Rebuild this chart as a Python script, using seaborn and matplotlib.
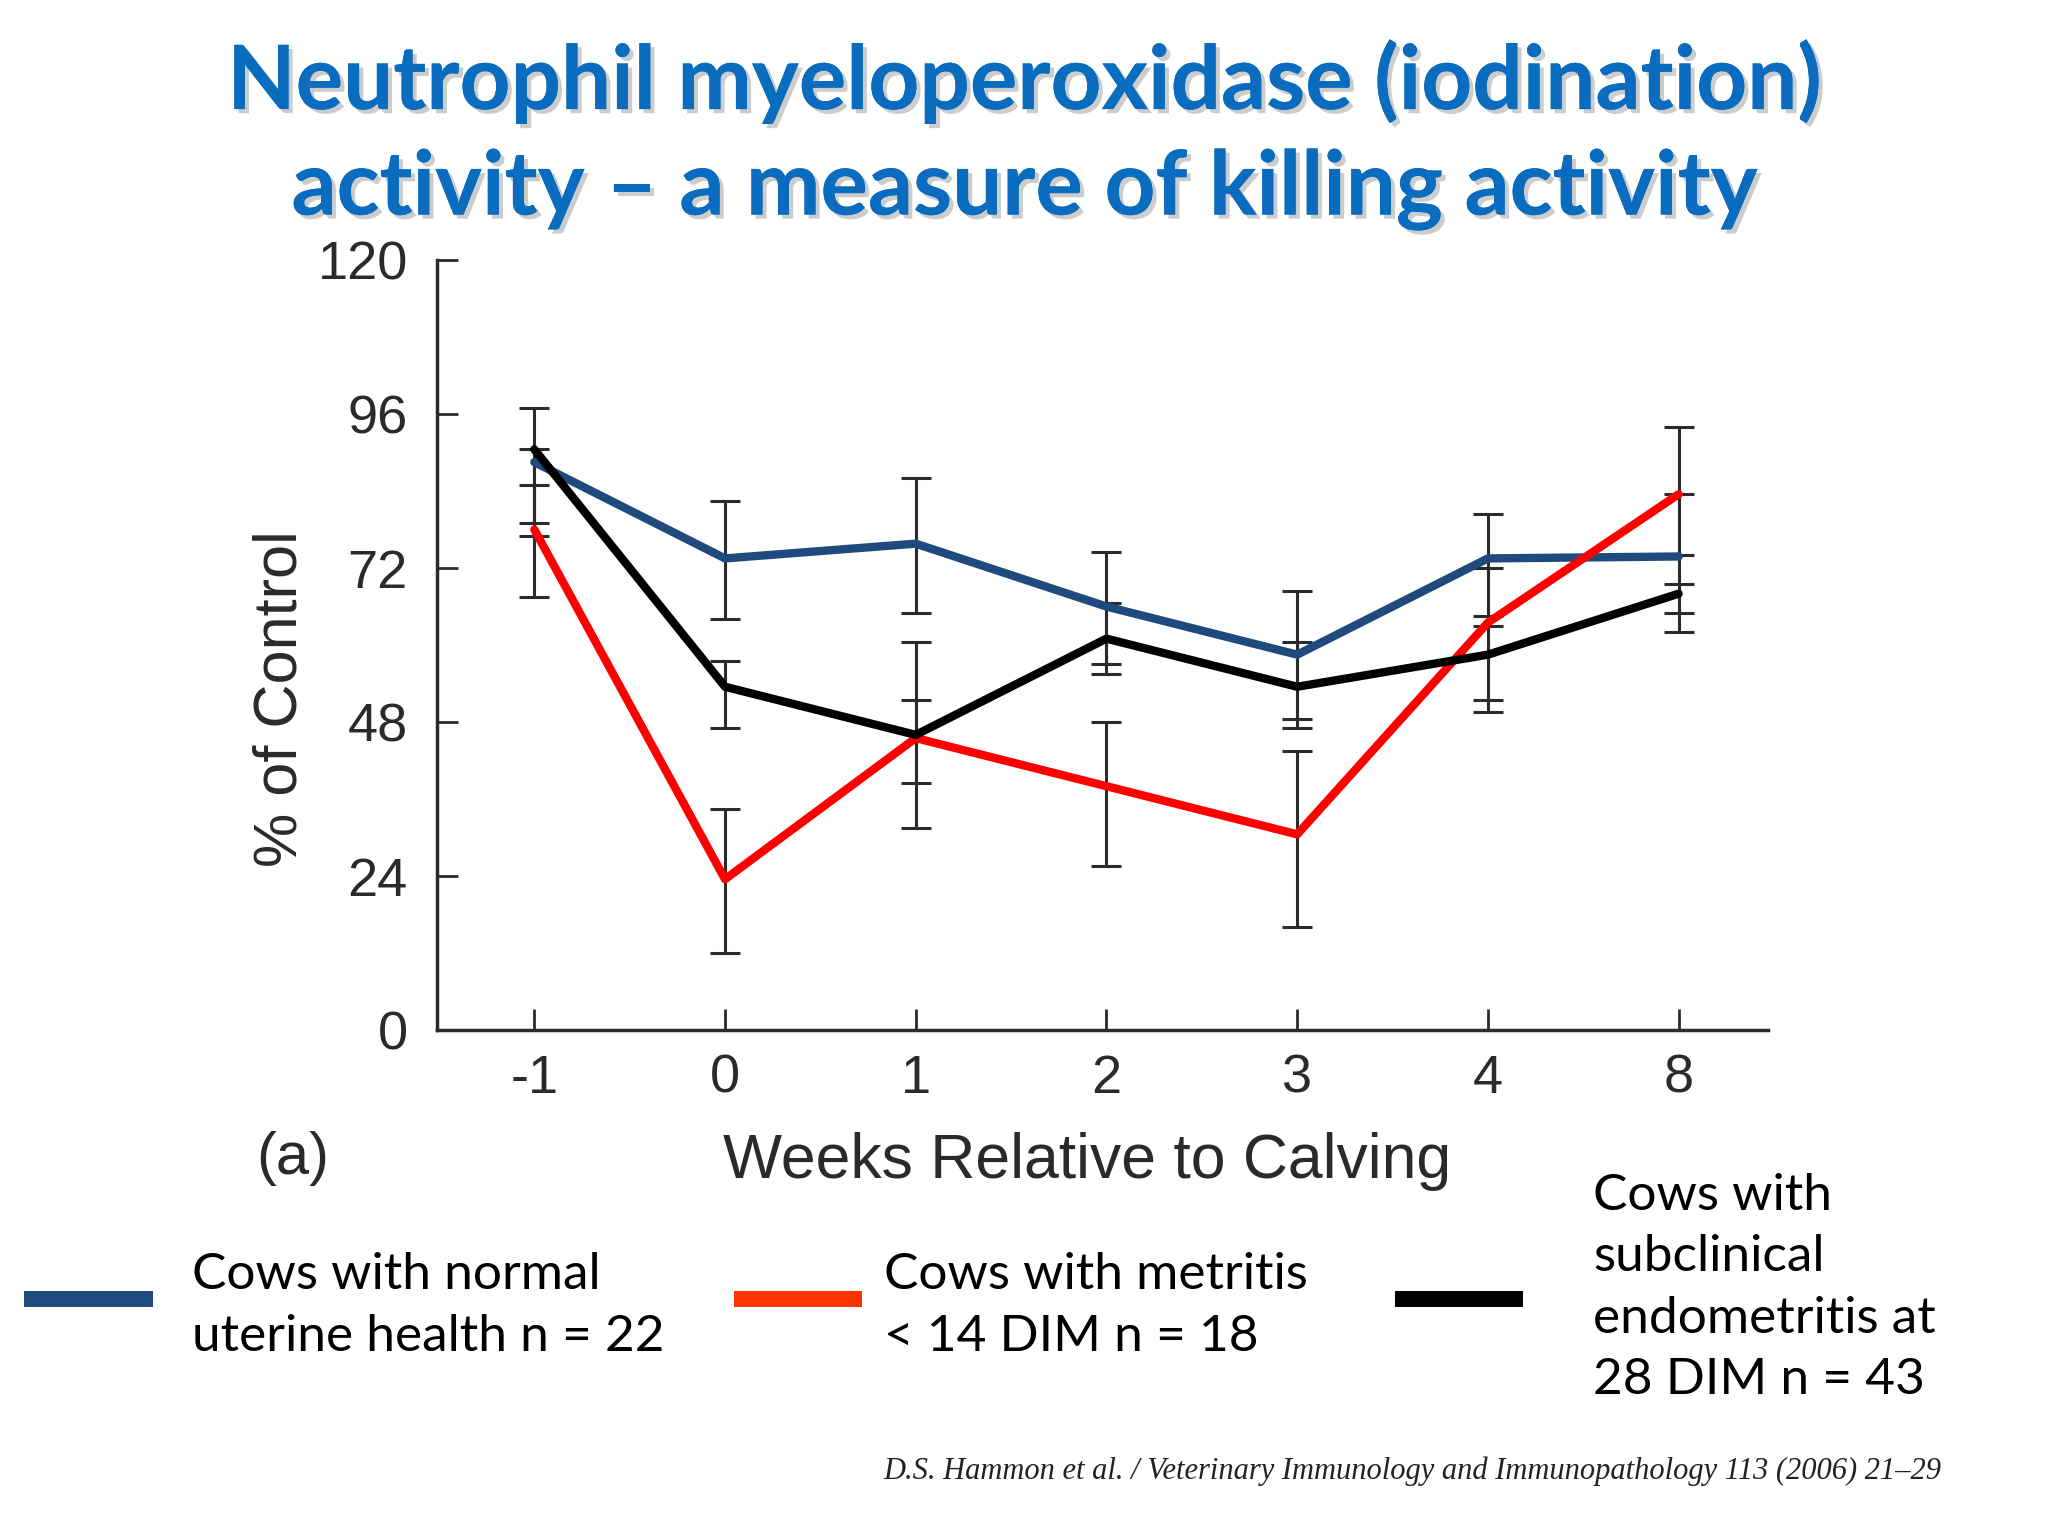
import numpy as np
import matplotlib
matplotlib.use("Agg")
import matplotlib.pyplot as plt
import matplotlib.patheffects as pe
from matplotlib.lines import Line2D
import seaborn as sns

# data
weeks = ["-1", "0", "1", "2", "3", "4", "8"]
normal = [88.5, 73.5, 75.8, 66.0, 58.5, 73.5, 73.8]
metritis = [78.0, 23.5, 45.5, 38.0, 30.5, 63.5, 83.5]
endometritis = [90.5, 53.5, 46.0, 61.0, 53.5, 58.5, 68.0]

# error bars of the original figure (low / high)
normal_lo = [79.0, 64.0, 65.0, 57.0, 48.5, 64.5, 65.0]
normal_hi = [97.0, 82.5, 86.0, 74.5, 68.5, 80.5, 83.5]
metritis_lo = [67.5, 12.0, 31.5, 25.5, 16.0, 51.5, 74.0]
metritis_hi = [85.0, 34.5, 60.5, 48.0, 43.5, 72.0, 94.0]
endo_lo = [77.0, 47.0, 38.5, 55.5, 47.0, 49.5, 62.0]
endo_hi = [90.5, 57.5, 51.5, 66.5, 60.5, 63.0, 69.5]

legend_labels = ["Cows with normal\nuterine health n = 22",
                 "Cows with metritis\n< 14 DIM n = 18",
                 "Cows with\nsubclinical\nendometritis at\n28 DIM n = 43"]

blue = "#1F4A7D"
red = "#FF0000"
black = "#000000"
gray = "#2b2b2b"

sns.set_theme(style="ticks")
plt.rcParams["font.family"] = ["Liberation Sans", "DejaVu Sans"]

fig = plt.figure(figsize=(20.48, 15.36), dpi=100)
ax = fig.add_axes([0.2134, 0.3294, 0.65, 0.5013])

pos = np.arange(len(weeks))

# error bars
for lo, hi in [(normal_lo, normal_hi), (metritis_lo, metritis_hi), (endo_lo, endo_hi)]:
    lo = np.array(lo)
    hi = np.array(hi)
    mid = (lo + hi) / 2
    ax.errorbar(pos, mid, yerr=(hi - lo) / 2, fmt="none", ecolor=gray,
                elinewidth=2.2, capsize=11, capthick=2.2, zorder=2)

sns.lineplot(x=pos, y=normal, color=blue, linewidth=6, ax=ax, zorder=3)
sns.lineplot(x=pos, y=metritis, color=red, linewidth=6, ax=ax, zorder=4)
sns.lineplot(x=pos, y=endometritis, color=black, linewidth=6, ax=ax, zorder=5)

ax.set_xlim(-0.51, 6.47)
ax.set_ylim(0, 120)
ax.set_xticks(pos)
ax.set_xticklabels(weeks)
ax.set_yticks([0, 24, 48, 72, 96, 120])
ax.tick_params(axis="both", direction="in", length=15, width=2, colors=gray,
               labelsize=39, labelcolor="#2a2a2a")
ax.tick_params(axis="y", pad=21)
ax.tick_params(axis="x", pad=17)
for s in ["left", "bottom"]:
    ax.spines[s].set_color(gray)
    ax.spines[s].set_linewidth(2.5)
sns.despine(ax=ax)
ax.set_xlabel("")
ax.set_ylabel("")

fig.text(0.137, 0.545, "% of Control", rotation=90, ha="center", va="center",
         fontsize=44, color="#2a2a2a")
fig.text(0.531, 0.244, "Weeks Relative to Calving", ha="center", va="center",
         fontsize=45, color="#2a2a2a")
fig.text(0.143, 0.246, "(a)", ha="center", va="center", fontsize=43, color="#2a2a2a")

# title
title = fig.text(0.5, 0.912, "Neutrophil myeloperoxidase (iodination)\nactivity \u2013 a measure of killing activity",
                 ha="center", va="center", fontsize=64, fontweight="bold",
                 color="#0A6CBF", family=["Lato", "DejaVu Sans"], linespacing=1.35)
title.set_path_effects([pe.withSimplePatchShadow(offset=(3, -3), shadow_rgbFace="#9a9a9a", alpha=0.5),
                        pe.Normal()])

# legend at the bottom
handle_x = [(24, 153), (734, 862), (1395, 1523)]
handle_col = [blue, "#FF3300", black]
text_x = [192, 884, 1593]
text_y = [1306, 1306, 1288]
for (x0, x1), c, tx, ty, lab in zip(handle_x, handle_col, text_x, text_y, legend_labels):
    fig.add_artist(Line2D([x0 / 2048, x1 / 2048], [1 - 1299 / 1536] * 2,
                          color=c, linewidth=11.5, solid_capstyle="butt"))
    fig.text(tx / 2048, 1 - ty / 1536, lab, ha="left", va="center",
             fontsize=37, color="black", family=["Lato", "DejaVu Sans"], linespacing=1.42)

fig.text(0.948, 0.042,
         "D.S. Hammon et al. / Veterinary Immunology and Immunopathology 113 (2006) 21\u201329",
         ha="right", va="center", fontsize=22, style="italic", color="#222222",
         family=["Liberation Serif", "DejaVu Serif"])

fig.savefig("out.png", dpi=100, facecolor="white")
